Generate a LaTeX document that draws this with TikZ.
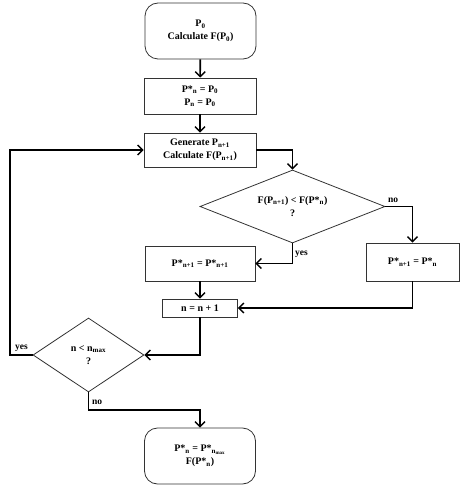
\documentclass[tikz,border=0pt]{standalone}
\usepackage{fontspec}
\setmainfont{Liberation Serif}
\usetikzlibrary{shapes.geometric,arrows.meta}
\begin{document}
\begin{tikzpicture}[x=1pt,y=-1pt,
  every node/.style={font=\bfseries\fontsize{10}{13}\selectfont,align=center,inner sep=0pt},
  proc/.style={draw=black!80,line width=0.8pt,rectangle},
  term/.style={draw=black!80,line width=0.8pt,rectangle,rounded corners=13pt},
  dec/.style={draw=black!80,line width=0.8pt,diamond,aspect=2.5},
  conn/.style={draw=black,line width=1.6pt,-{Straight Barb[length=5pt,width=10pt,line width=1.4pt]}},
  lab/.style={font=\bfseries\fontsize{9.5}{11}\selectfont}]
\useasboundingbox (0,0) rectangle (474,489);
\node[term,minimum width=111pt,minimum height=56pt] (start) at (200.5,31) {P\textsubscript{0}\\Calculate F(P\textsubscript{0})};
\node[proc,minimum width=112pt,minimum height=36pt] (b2) at (200,96) {P*\textsubscript{n} = P\textsubscript{0}\\P\textsubscript{n} = P\textsubscript{0}};
\node[proc,minimum width=112pt,minimum height=34pt] (b3) at (200,150) {Generate P\textsubscript{n+1}\\Calculate F(P\textsubscript{n+1})};
\node[dec,minimum width=185pt,minimum height=73pt] (d1) at (292.5,206.5) {F(P\textsubscript{n+1}) < F(P*\textsubscript{n})\\?};
\node[proc,minimum width=93pt,minimum height=38pt] (b4) at (412.5,262) {P*\textsubscript{n+1} = P*\textsubscript{n}};
\node[proc,minimum width=110pt,minimum height=35pt] (b5) at (200,263.5) {P*\textsubscript{n+1} = P*\textsubscript{n+1}};
\node[proc,minimum width=75pt,minimum height=18pt] (b6) at (200,308) {n = n + 1};
\node[dec,minimum width=111pt,minimum height=74pt] (d2) at (88.5,355) {n < n\textsubscript{max}\\?};
\node[term,minimum width=111pt,minimum height=56pt] (end) at (200,456) {P*\textsubscript{n} = P*\textsubscript{n\textsubscript{max}}\\F(P*\textsubscript{n})};
\coordinate (lp) at (10,355);
\coordinate (np) at (88.5,410);
\draw[conn] (start) -- (b2);
\draw[conn] (b2) -- (b3);
\draw[conn] (b3.east) -| (d1.north);
\draw[conn] (d1.east) -| (b4.north);
\draw[conn] (d1.south) |- (b5.east);
\draw[conn] (b5) -- (b6);
\draw[conn] (b4.south) |- (b6.east);
\draw[conn] (b6.south) |- (d2.east);
\draw[conn] (d2.west) -- (lp) |- (b3.west);
\draw[conn] (d2.south) -- (np) -| (end.north);
\node[lab,anchor=south west] (lno1) at (388,203) {no};
\node[lab,anchor=west] (lyes1) at (295,254) {yes};
\node[lab,anchor=south west] (lyes2) at (15,352) {yes};
\node[lab,anchor=west] (lno2) at (92,402) {no};
\end{tikzpicture}
\end{document}
